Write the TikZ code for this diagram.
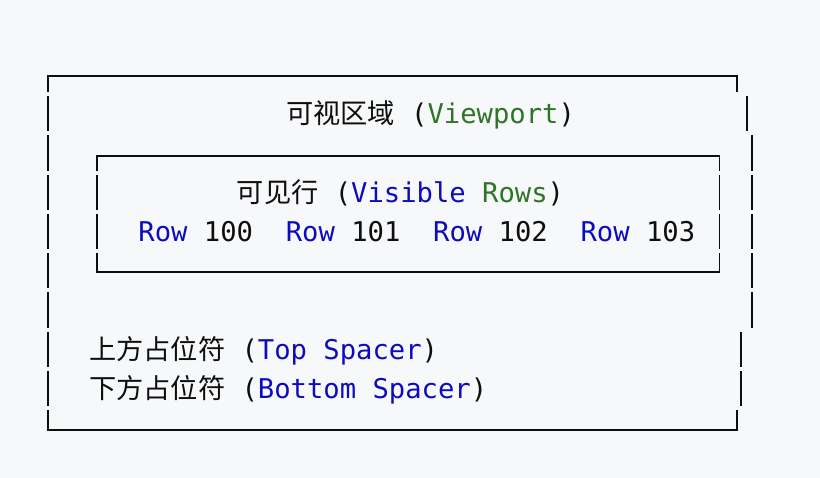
\documentclass[tikz,border=0pt]{standalone}
\usepackage{fontspec}
\setmainfont{DejaVu Sans}
\newfontfamily\monof{DejaVu Sans Mono}
\newfontfamily\cjk{Noto Sans CJK SC}
\definecolor{bg}{HTML}{F7F8FA}
\definecolor{kwblue}{RGB}{12,12,190}
\definecolor{kwgreen}{RGB}{46,118,38}
\definecolor{ink}{HTML}{0E0E0E}
\newcommand\vbarseg[2]{\draw[rule] (#1,{54.7+39.3*#2+2}) -- (#1,{54.7+39.3*#2+37.3});}
\begin{document}
\begin{tikzpicture}[x=1pt,y=-1pt,
  txt/.style={anchor=base west,inner sep=0pt,font=\monof\fontsize{27.2}{32}\selectfont,text=ink},
  rule/.style={draw=ink,line width=1.8pt}]
\fill[bg] (0,0) rectangle (820,478);
\useasboundingbox (0,0) rectangle (820,478);
% outer box corners
\draw[rule] (48,92) -- (48,76) -- (736.8,76) -- (736.8,92);
\draw[rule] (48,410.4) -- (48,430) -- (736.8,430) -- (736.8,410.4);
\foreach \k in {1,...,8} {\vbarseg{48}{\k}}
\vbarseg{747}{1}
\foreach \k in {2,...,6} {\vbarseg{752.3}{\k}}
\foreach \k in {7,8} {\vbarseg{741}{\k}}
% inner box
\draw[rule] (97.2,170.6) -- (97.2,156) -- (719.5,156) -- (719.5,170.6);
\draw[rule] (97.2,253.2) -- (97.2,272) -- (719.5,272) -- (719.5,253.2);
\foreach \k in {3,4} {\vbarseg{97.2}{\k}\vbarseg{719.5}{\k}}
% texts
\node[txt] (vp) at (285.8,123.6) {{\cjk 可视区域} (\textcolor{kwgreen}{Viewport})};
\node[txt] (vr) at (236.6,202.2) {{\cjk 可见行} (\textcolor{kwblue}{Visible} \textcolor{kwgreen}{Rows})};
\node[txt] (rows) at (138.2,241.5) {\textcolor{kwblue}{Row} 100\ \ \textcolor{kwblue}{Row} 101\ \ \textcolor{kwblue}{Row} 102\ \ \textcolor{kwblue}{Row} 103};
\node[txt] (ts) at (89,359.5) {{\cjk 上方占位符} (\textcolor{kwblue}{Top Spacer})};
\node[txt] (bs) at (89,398.8) {{\cjk 下方占位符} (\textcolor{kwblue}{Bottom Spacer})};
\end{tikzpicture}
\end{document}
